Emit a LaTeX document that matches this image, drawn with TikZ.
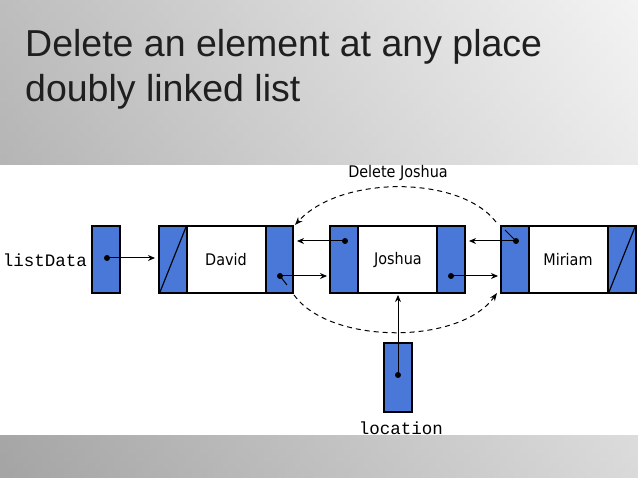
\documentclass[tikz,border=0pt]{standalone}
\usepackage{fontspec}
\setmainfont{Liberation Sans}
\newfontfamily\cond{DejaVu Sans Condensed}
\newfontfamily\mono{Liberation Mono}
\usetikzlibrary{arrows.meta,shadings}
\definecolor{cellblue}{HTML}{4A78D8}
\tikzset{
  blu/.style={fill=cellblue,draw=black,line width=1.2pt},
  wht/.style={fill=white,draw=black,line width=1.2pt},
  ptr/.style={-{Stealth[length=7pt,width=6pt]},line width=1pt},
  dsh/.style={dash pattern=on 5pt off 4pt,-{Stealth[length=8pt,width=6pt]},line width=1pt},
  dot/.style={circle,fill=black,inner sep=0pt,minimum size=6pt},
  lbl/.style={font=\cond\fontsize{16}{18}\selectfont},
  mlbl/.style={font=\mono\fontsize{17.5}{19}\selectfont},
  ttl/.style={anchor=base west,text=black!88,font=\fontsize{37.5}{40}\selectfont},
}
\begin{document}
\begin{tikzpicture}[x=1pt,y=-1pt]
\useasboundingbox (0,0) rectangle (638,478);
\shade[left color=gray!85,right color=gray!15] (0,0) rectangle (638,478);
\shade[top color=white,bottom color=gray!50,opacity=0.4] (0,0) rectangle (638,478);
\fill[white] (0,165) rectangle (638,435);
\node[ttl,inner sep=0pt] (t1) at (25,57) {Delete an element at any place};
\node[ttl,inner sep=0pt] (t2) at (25,102) {doubly linked list};
% listData
\draw[blu] (92,226) rectangle (120,293);
\node[dot] (ld) at (107,258) {};
\node[anchor=east,mlbl,inner sep=0pt] (ldl) at (87,260) {listData};
% David
\draw[wht] (159,226) rectangle (293,293);
\draw[blu] (159,226) rectangle (187,293);
\draw[blu] (266,226) rectangle (293,293);
\draw[line width=1.2pt] (160,292) -- (186,227);
\node[lbl] (dv) at (226,260) {David};
\coordinate (dvin) at (155,258);
% Joshua
\draw[wht] (330,226) rectangle (465,293);
\draw[blu] (330,226) rectangle (358,293);
\draw[blu] (437,226) rectangle (465,293);
\node[lbl] (js) at (398,260) {Joshua};
% Miriam
\draw[wht] (501,226) rectangle (636,293);
\draw[blu] (501,226) rectangle (529,293);
\draw[blu] (608,226) rectangle (636,293);
\draw[line width=1.2pt] (609,292) -- (635,227);
\node[lbl] (mr) at (568,260) {Miriam};
% location
\draw[blu] (384,343) rectangle (412,412);
\node[dot] (lc) at (398,375) {};
\node[mlbl] (lcl) at (401,428) {location};
\node[lbl] (del) at (398,173) {Delete Joshua};
% dots
\node[dot] (jl) at (345,241) {};
\node[dot] (ml) at (516,241) {};
\node[dot] (dr) at (280,276) {};
\node[dot] (jr) at (451,276) {};
\coordinate (dvr) at (297,241);
\coordinate (jsr) at (469,241);
\coordinate (jsl) at (327,276);
\coordinate (mrl) at (498,276);
\coordinate (jsb) at (398,295);
\coordinate (mt) at (496,222);
\coordinate (dt) at (295,225);
\coordinate (db) at (294,295);
\coordinate (mb) at (497,293);
\draw[ptr] (ld.center) -- (dvin);
\draw[ptr] (jl.center) -- (dvr);
\draw[ptr] (ml.center) -- (jsr);
\draw[ptr] (dr.center) -- (jsl);
\draw[ptr] (jr.center) -- (mrl);
\draw[ptr] (lc.center) -- (jsb);
\draw[line width=1pt] (ml.center) -- (505,230);
\draw[line width=1pt] (dr.center) -- (287,285);
\draw[dsh] (mt) .. controls (460,175) and (340,175) .. (dt);
\draw[dsh] (db) .. controls (330,345) and (460,345) .. (mb);
\end{tikzpicture}
\end{document}
